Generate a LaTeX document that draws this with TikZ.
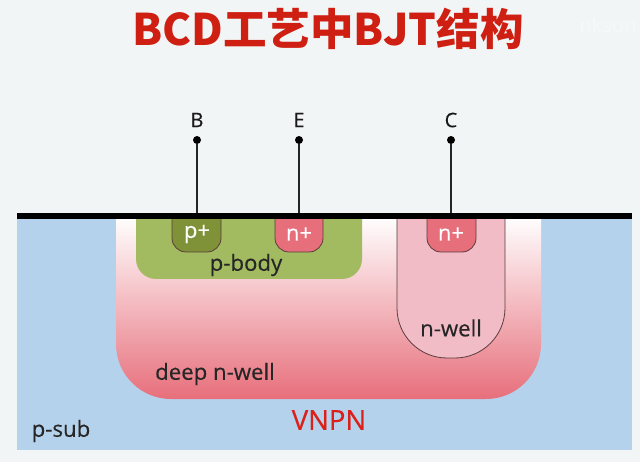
\documentclass[tikz,border=0pt]{standalone}
\usepackage{fontspec}
\setmainfont{Open Sans}[FakeBold=0.35]
\newfontfamily\plainf{Open Sans}
\newfontfamily\cjk{Noto Sans CJK SC}
\definecolor{bgc}{HTML}{F2F5F5}
\definecolor{subc}{HTML}{B5D2EC}
\definecolor{deepc}{HTML}{E76F7B}
\definecolor{deepm}{HTML}{F5C4C4}
\definecolor{nwellc}{HTML}{F2BCC7}
\definecolor{bodyc}{HTML}{A3BB60}
\definecolor{pplusc}{HTML}{7F9237}
\definecolor{nplusc}{HTML}{E66F7B}
\definecolor{titlec}{HTML}{CE1F12}
\definecolor{vnpnc}{HTML}{DD1F1A}
\definecolor{edgec}{HTML}{5A3C3C}
\tikzset{
  txt/.style={font=\fontsize{22.2}{26}\selectfont, text=black!85, inner sep=0pt},
  wtxt/.style={font=\fontsize{22}{26}\selectfont, text=white, inner sep=0pt},
  termtxt/.style={font=\fontsize{20}{24}\selectfont, text=black!90, inner sep=0pt},
  dotn/.style={circle, fill=black, inner sep=0pt, minimum size=8pt},
  lead/.style={draw=black!85, line width=1.4pt},
  contact/.style={draw=edgec, line width=0.8pt},
}
\begin{document}
\begin{tikzpicture}[x=1pt,y=-1pt]
\useasboundingbox (0,0) rectangle (640,462);
\fill[bgc] (0,0) rectangle (640,462);
% title and watermark
\node[inner sep=0pt, text=titlec, font=\cjk\bfseries\fontsize{43.5}{48}\selectfont] (title) at (328,29) {BCD工艺中BJT结构};
\node[inner sep=0pt, text=white!40!bgc, font=\plainf\fontsize{20}{24}\selectfont] (mark) at (608,25) {nksun};
% substrate
\fill[subc] (17,216) rectangle (632,450);
% deep n-well
\shade[top color=white, middle color=deepm, bottom color=deepc]
  (116,216) [rounded corners=55pt] -- (116,399) -- (541,399) [sharp corners] -- (541,216) -- cycle;
% p-body
\fill[bodyc] (136,216) [rounded corners=20pt] -- (136,279) -- (362,279) [sharp corners] -- (362,216) -- cycle;
% n-well
\draw[draw=edgec, line width=0.8pt, fill=nwellc] (397,216) [rounded corners=50pt] -- (397,358) -- (505,358) [sharp corners] -- (505,216);
% contacts
\draw[contact, fill=pplusc] (172,216) [rounded corners=14pt] -- (172,252) -- (221,252) [sharp corners] -- (221,216);
\draw[contact, fill=nplusc] (275,216) [rounded corners=14pt] -- (275,252) -- (323,252) [sharp corners] -- (323,216);
\draw[contact, fill=nplusc] (427,216) [rounded corners=14pt] -- (427,252) -- (476,252) [sharp corners] -- (476,216);
% bar
\node[inner sep=0pt, minimum width=615pt, minimum height=6pt, fill=black] (bar) at (324.5,216) {};
% terminals
\node[dotn] (dB) at (197,140) {};
\node[dotn] (dE) at (299,140) {};
\node[dotn] (dC) at (451,140) {};
\node[termtxt] (lB) at (197,120) {B};
\node[termtxt] (lE) at (299,120) {E};
\node[termtxt] (lC) at (451,120) {C};
\draw[lead] (dB) -- (dB |- bar.north);
\draw[lead] (dE) -- (dE |- bar.north);
\draw[lead] (dC) -- (dC |- bar.north);
% labels
\node[wtxt] (pp) at (197,234) {p+};
\node[wtxt] (np1) at (299,234) {n+};
\node[wtxt] (np2) at (451,234) {n+};
\node[txt] (pbody) at (246,265) {p-body};
\node[txt] (nwell) at (451,328) {n-well};
\node[txt] (deep) at (215,374) {deep n-well};
\node[txt] (psub) at (61,431) {p-sub};
\node[inner sep=0pt, text=vnpnc, font=\fontsize{27.5}{32}\selectfont] (vnpn) at (329,420) {VNPN};
\end{tikzpicture}
\end{document}
